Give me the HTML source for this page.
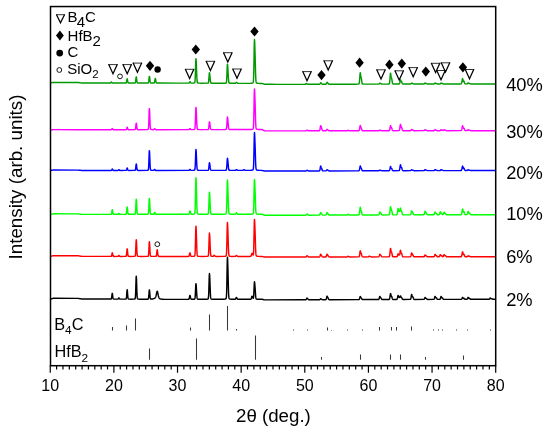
<!DOCTYPE html>
<html><head><meta charset="utf-8"><style>
html,body{margin:0;padding:0;background:#fff;}
body{width:550px;height:436px;overflow:hidden;}
svg{display:block;}
</style></head><body>
<svg width="550" height="436" viewBox="0 0 550 436">
<rect width="550" height="436" fill="#fff"/>
<path d="M50.20 299.20 L50.52 299.11 L50.84 299.02 L51.15 298.93 L51.47 298.84 L51.79 298.75 L52.11 298.66 L52.43 298.57 L52.75 298.48 L53.06 298.39 L53.38 298.30 L77.88 298.35 L78.20 298.40 L78.68 298.48 L79.00 298.53 L79.47 298.60 L79.95 298.68 L80.27 298.73 L80.75 298.80 L81.06 298.85 L81.54 298.93 L81.86 298.98 L87.59 299.03 L98.88 299.08 L110.97 299.03 L111.13 298.98 L111.29 298.84 L111.45 298.50 L111.61 297.83 L111.77 296.73 L111.93 295.31 L112.09 293.99 L112.24 293.35 L112.40 293.66 L112.56 294.72 L112.72 296.10 L112.88 297.32 L113.04 298.18 L113.20 298.67 L113.36 298.91 L113.52 299.01 L113.84 299.08 L115.11 299.13 L117.97 299.06 L118.13 298.96 L118.29 298.78 L118.45 298.50 L118.61 298.17 L118.77 297.92 L118.93 297.86 L119.09 298.00 L119.24 298.28 L119.40 298.58 L119.56 298.83 L119.72 298.99 L119.88 299.08 L120.20 299.14 L125.61 299.09 L125.77 299.06 L125.93 299.00 L126.09 298.87 L126.24 298.54 L126.40 297.79 L126.56 296.42 L126.72 294.36 L126.88 292.02 L127.04 290.20 L127.20 289.72 L127.36 290.68 L127.52 292.59 L127.68 294.77 L127.84 296.60 L127.99 297.84 L128.15 298.53 L128.31 298.86 L128.47 299.00 L128.63 299.07 L129.11 299.13 L131.02 299.18 L133.72 299.13 L134.36 299.06 L134.68 298.98 L134.84 298.92 L134.99 298.81 L135.15 298.53 L135.31 297.85 L135.47 296.28 L135.63 293.26 L135.79 288.57 L135.95 282.90 L136.11 278.06 L136.27 276.14 L136.43 277.71 L136.59 281.82 L136.74 286.99 L136.90 291.71 L137.06 295.13 L137.22 297.18 L137.38 298.22 L137.54 298.68 L137.70 298.88 L137.86 298.97 L138.02 299.02 L138.34 299.09 L138.81 299.14 L139.77 299.20 L143.43 299.25 L147.56 299.19 L148.04 299.11 L148.20 299.03 L148.36 298.83 L148.52 298.34 L148.68 297.35 L148.84 295.68 L148.99 293.45 L149.15 291.23 L149.31 289.90 L149.47 289.97 L149.63 291.19 L149.79 293.09 L149.95 295.12 L150.11 296.80 L150.27 297.94 L150.43 298.59 L150.59 298.90 L150.74 299.03 L150.90 299.08 L152.34 299.01 L152.65 298.95 L152.97 298.87 L153.29 298.77 L153.45 298.72 L153.61 298.67 L153.77 298.61 L153.93 298.54 L154.09 298.47 L154.24 298.40 L154.40 298.33 L154.56 298.25 L154.72 298.16 L154.88 298.05 L155.04 297.93 L155.20 297.78 L155.36 297.58 L155.52 297.31 L155.68 296.97 L155.84 296.53 L155.99 295.98 L156.15 295.33 L156.31 294.59 L156.47 293.80 L156.63 293.01 L156.79 292.29 L156.95 291.72 L157.11 291.38 L157.27 291.31 L157.43 291.52 L157.59 291.99 L157.74 292.66 L157.90 293.45 L158.06 294.30 L158.22 295.12 L158.38 295.88 L158.54 296.54 L158.70 297.09 L158.86 297.53 L159.02 297.87 L159.18 298.13 L159.34 298.33 L159.49 298.48 L159.65 298.60 L159.81 298.69 L159.97 298.77 L160.13 298.83 L160.29 298.89 L160.45 298.94 L160.77 299.03 L161.09 299.10 L161.40 299.15 L161.88 299.21 L162.52 299.27 L163.79 299.32 L167.93 299.37 L188.45 299.31 L188.61 299.29 L188.77 299.23 L188.93 299.10 L189.08 298.82 L189.24 298.31 L189.40 297.53 L189.56 296.60 L189.72 295.78 L189.88 295.38 L190.04 295.49 L190.20 295.94 L190.36 296.59 L190.52 297.33 L190.68 298.02 L190.83 298.56 L190.99 298.92 L191.15 299.13 L191.31 299.23 L191.63 299.29 L194.02 299.23 L194.33 299.17 L194.49 299.12 L194.65 299.03 L194.81 298.81 L194.97 298.28 L195.13 297.16 L195.29 295.10 L195.45 292.02 L195.61 288.37 L195.77 285.17 L195.93 283.63 L196.08 284.04 L196.24 285.80 L196.40 288.28 L196.56 291.11 L196.72 293.82 L196.88 296.02 L197.04 297.52 L197.20 298.40 L197.36 298.85 L197.52 299.05 L197.68 299.14 L197.99 299.21 L198.47 299.26 L199.74 299.32 L206.43 299.26 L207.06 299.20 L207.54 299.12 L207.70 299.08 L207.86 299.02 L208.02 298.92 L208.18 298.72 L208.33 298.25 L208.49 297.18 L208.65 294.98 L208.81 291.19 L208.97 285.86 L209.13 279.96 L209.29 275.29 L209.45 273.55 L209.61 274.76 L209.77 277.71 L209.93 281.56 L210.08 285.90 L210.24 290.15 L210.40 293.67 L210.56 296.17 L210.72 297.67 L210.88 298.45 L211.04 298.81 L211.20 298.97 L211.36 299.05 L211.52 299.10 L211.83 299.16 L212.31 299.22 L213.27 299.27 L223.77 299.22 L224.40 299.17 L224.88 299.11 L225.20 299.04 L225.36 299.00 L225.52 298.94 L225.68 298.87 L225.83 298.78 L225.99 298.62 L226.15 298.31 L226.31 297.59 L226.47 295.96 L226.63 292.60 L226.79 286.77 L226.95 278.40 L227.11 268.85 L227.27 260.85 L227.43 257.23 L227.58 258.48 L227.74 262.67 L227.90 268.08 L228.06 274.28 L228.22 280.91 L228.38 287.08 L228.54 291.97 L228.70 295.28 L228.86 297.18 L229.02 298.13 L229.18 298.56 L229.33 298.76 L229.49 298.87 L229.65 298.95 L229.81 299.00 L230.13 299.08 L230.45 299.13 L230.93 299.18 L231.88 299.24 L235.22 299.22 L235.38 299.15 L235.54 299.00 L235.70 298.75 L235.86 298.39 L236.02 297.99 L236.18 297.65 L236.33 297.51 L236.49 297.56 L236.65 297.74 L236.81 297.96 L236.97 298.21 L237.13 298.48 L237.29 298.74 L237.45 298.96 L237.61 299.11 L237.77 299.20 L238.08 299.27 L250.49 299.22 L250.81 299.15 L250.97 299.05 L251.13 298.84 L251.29 298.48 L251.45 297.93 L251.61 297.26 L251.77 296.64 L251.93 296.26 L252.08 296.23 L252.24 296.45 L252.40 296.76 L252.56 297.08 L252.72 297.44 L252.88 297.82 L253.04 298.15 L253.20 298.32 L253.36 298.20 L253.52 297.55 L253.68 296.10 L253.83 293.58 L253.99 290.06 L254.15 286.17 L254.31 283.01 L254.47 281.70 L254.63 282.34 L254.79 284.03 L254.95 285.99 L255.11 288.09 L255.27 290.44 L255.43 292.92 L255.58 295.15 L255.74 296.85 L255.90 297.96 L256.06 298.57 L256.22 298.87 L256.38 299.01 L256.54 299.08 L256.86 299.14 L257.33 299.20 L258.45 299.25 L262.27 299.32 L262.58 299.40 L262.90 299.48 L263.22 299.55 L263.54 299.63 L263.86 299.70 L264.18 299.78 L264.49 299.85 L300.92 299.80 L305.70 299.75 L305.86 299.71 L306.02 299.64 L306.17 299.51 L306.33 299.28 L306.49 298.97 L306.65 298.60 L306.81 298.28 L306.97 298.10 L307.13 298.13 L307.29 298.28 L307.45 298.46 L307.61 298.61 L307.77 298.73 L307.92 298.88 L308.08 299.07 L308.24 299.28 L308.40 299.46 L308.56 299.59 L308.72 299.68 L309.04 299.75 L319.70 299.66 L319.86 299.58 L320.02 299.44 L320.17 299.25 L320.33 299.04 L320.49 298.85 L320.65 298.76 L320.81 298.77 L320.97 298.87 L321.13 298.98 L321.29 299.06 L321.45 299.12 L321.61 299.19 L321.77 299.29 L321.92 299.41 L322.08 299.52 L322.24 299.61 L322.40 299.67 L322.88 299.72 L325.58 299.67 L325.74 299.63 L325.90 299.55 L326.06 299.39 L326.22 299.09 L326.38 298.60 L326.54 297.93 L326.70 297.16 L326.86 296.50 L327.02 296.16 L327.17 296.23 L327.33 296.58 L327.49 296.97 L327.65 297.27 L327.81 297.49 L327.97 297.72 L328.13 298.06 L328.29 298.48 L328.45 298.88 L328.61 299.21 L328.77 299.43 L328.92 299.56 L329.08 299.63 L329.56 299.69 L357.56 299.64 L358.83 299.58 L358.99 299.53 L359.15 299.44 L359.31 299.26 L359.47 298.94 L359.63 298.46 L359.79 297.83 L359.95 297.17 L360.11 296.65 L360.27 296.45 L360.42 296.61 L360.58 296.98 L360.74 297.34 L360.90 297.59 L361.06 297.72 L361.22 297.83 L361.38 298.03 L361.54 298.34 L361.70 298.69 L361.86 299.02 L362.01 299.27 L362.17 299.43 L362.33 299.52 L362.65 299.59 L378.40 299.53 L378.56 299.48 L378.72 299.40 L378.88 299.23 L379.04 298.93 L379.20 298.47 L379.36 297.86 L379.51 297.20 L379.67 296.66 L379.83 296.40 L379.99 296.51 L380.15 296.87 L380.31 297.28 L380.47 297.57 L380.63 297.70 L380.79 297.76 L380.95 297.86 L381.11 298.09 L381.26 298.41 L381.42 298.75 L381.58 299.05 L381.74 299.27 L381.90 299.40 L382.06 299.48 L382.38 299.54 L388.74 299.49 L389.06 299.43 L389.22 299.36 L389.38 299.22 L389.54 298.93 L389.70 298.41 L389.86 297.60 L390.01 296.51 L390.17 295.28 L390.33 294.20 L390.49 293.61 L390.65 293.70 L390.81 294.33 L390.97 295.12 L391.13 295.74 L391.29 296.06 L391.45 296.15 L391.61 296.25 L391.76 296.54 L391.92 297.06 L392.08 297.69 L392.24 298.30 L392.40 298.78 L392.56 299.10 L392.72 299.29 L392.88 299.39 L393.04 299.44 L393.67 299.50 L396.70 299.42 L396.86 299.36 L397.01 299.22 L397.17 298.97 L397.33 298.55 L397.49 297.92 L397.65 297.14 L397.81 296.34 L397.97 295.73 L398.13 295.51 L398.29 295.74 L398.45 296.24 L398.61 296.74 L398.76 297.08 L398.92 297.20 L399.24 297.20 L399.40 297.29 L399.56 297.40 L399.72 297.40 L399.88 297.20 L400.04 296.78 L400.20 296.27 L400.36 295.90 L400.51 295.86 L400.67 296.16 L400.83 296.65 L400.99 297.11 L401.15 297.39 L401.31 297.49 L401.47 297.51 L401.63 297.58 L401.79 297.81 L401.95 298.15 L402.11 298.53 L402.26 298.87 L402.42 299.13 L402.58 299.29 L402.74 299.39 L403.06 299.46 L410.22 299.39 L410.38 299.31 L410.54 299.16 L410.70 298.87 L410.86 298.38 L411.01 297.64 L411.17 296.70 L411.33 295.69 L411.49 294.88 L411.65 294.52 L411.81 294.72 L411.97 295.32 L412.13 296.01 L412.29 296.52 L412.45 296.76 L412.76 296.78 L412.92 296.93 L413.08 297.29 L413.24 297.79 L413.40 298.30 L413.56 298.73 L413.72 299.05 L413.88 299.24 L414.04 299.35 L414.20 299.40 L414.67 299.46 L423.90 299.36 L424.06 299.27 L424.22 299.10 L424.38 298.84 L424.54 298.49 L424.70 298.09 L424.86 297.73 L425.01 297.51 L425.17 297.51 L425.33 297.70 L425.49 297.98 L425.65 298.23 L425.81 298.38 L426.29 298.40 L426.45 298.48 L426.61 298.64 L426.76 298.84 L426.92 299.04 L427.08 299.20 L427.24 299.31 L427.40 299.38 L427.72 299.43 L433.61 299.38 L433.76 299.33 L433.92 299.25 L434.08 299.08 L434.24 298.81 L434.40 298.38 L434.56 297.84 L434.72 297.24 L434.88 296.73 L435.04 296.47 L435.20 296.53 L435.36 296.87 L435.51 297.30 L435.67 297.67 L435.83 297.87 L436.31 297.84 L436.47 297.95 L436.63 298.18 L436.79 298.48 L436.95 298.77 L437.11 299.01 L437.26 299.18 L437.42 299.29 L437.58 299.35 L438.22 299.40 L439.81 299.31 L439.97 299.22 L440.13 299.06 L440.29 298.78 L440.45 298.35 L440.61 297.81 L440.76 297.22 L440.92 296.71 L441.08 296.45 L441.24 296.52 L441.40 296.86 L441.56 297.30 L441.72 297.67 L441.88 297.89 L442.04 297.93 L442.20 297.87 L442.36 297.83 L442.51 297.91 L442.67 298.13 L442.83 298.42 L442.99 298.72 L443.15 298.97 L443.31 299.15 L443.47 299.27 L443.63 299.33 L443.95 299.38 L461.13 299.33 L461.29 299.29 L461.45 299.22 L461.60 299.09 L461.76 298.87 L461.92 298.57 L462.08 298.20 L462.24 297.81 L462.40 297.51 L462.56 297.38 L462.72 297.47 L462.88 297.73 L463.04 298.03 L463.20 298.28 L463.35 298.42 L463.51 298.44 L463.67 298.38 L463.83 298.33 L463.99 298.34 L464.15 298.45 L464.31 298.62 L464.47 298.82 L464.63 299.00 L464.79 299.14 L464.95 299.23 L465.10 299.29 L465.74 299.34 L466.85 299.27 L467.01 299.21 L467.17 299.09 L467.33 298.90 L467.49 298.61 L467.65 298.25 L467.81 297.86 L467.97 297.54 L468.13 297.37 L468.29 297.42 L468.45 297.66 L468.60 297.96 L468.76 298.24 L468.92 298.40 L469.24 298.40 L469.40 298.34 L469.56 298.32 L469.72 298.39 L469.88 298.55 L470.04 298.74 L470.20 298.93 L470.35 299.09 L470.51 299.20 L470.67 299.26 L470.99 299.32 L488.97 299.25 L489.13 299.20 L489.29 299.11 L489.45 298.96 L489.60 298.77 L489.76 298.53 L489.92 298.28 L490.08 298.09 L490.24 298.01 L490.40 298.08 L490.56 298.24 L490.72 298.45 L490.88 298.63 L491.04 298.74 L491.35 298.73 L491.51 298.67 L491.83 298.66 L491.99 298.74 L492.15 298.85 L492.31 298.98 L492.47 299.09 L492.63 299.17 L492.79 299.23 L493.10 299.28 L495.65 299.30" fill="none" stroke="#000000" stroke-width="1.45" stroke-linejoin="round"/>
<path d="M50.20 256.40 L50.52 256.33 L50.84 256.26 L51.15 256.19 L51.47 256.12 L51.79 256.05 L52.11 255.98 L52.43 255.91 L52.75 255.84 L53.06 255.77 L53.38 255.70 L77.88 255.75 L78.36 255.82 L78.84 255.90 L79.15 255.95 L79.63 256.02 L79.95 256.07 L80.27 256.12 L80.75 256.20 L81.06 256.25 L81.54 256.32 L81.86 256.38 L111.13 256.34 L111.29 256.25 L111.45 256.04 L111.61 255.62 L111.77 254.94 L111.93 254.06 L112.09 253.24 L112.24 252.84 L112.40 253.03 L112.56 253.69 L112.72 254.55 L112.88 255.31 L113.04 255.84 L113.20 256.14 L113.36 256.29 L113.52 256.35 L114.15 256.41 L117.97 256.36 L118.13 256.29 L118.29 256.14 L118.45 255.93 L118.61 255.68 L118.77 255.49 L118.93 255.44 L119.09 255.55 L119.24 255.76 L119.40 255.99 L119.56 256.18 L119.72 256.30 L119.88 256.37 L120.36 256.42 L125.61 256.36 L125.93 256.29 L126.09 256.18 L126.24 255.92 L126.40 255.32 L126.56 254.22 L126.72 252.58 L126.88 250.70 L127.04 249.25 L127.20 248.87 L127.36 249.63 L127.52 251.16 L127.68 252.90 L127.84 254.37 L127.99 255.36 L128.15 255.91 L128.31 256.18 L128.47 256.29 L128.79 256.36 L129.90 256.41 L134.04 256.36 L134.52 256.30 L134.84 256.23 L134.99 256.14 L135.15 255.95 L135.31 255.45 L135.47 254.32 L135.63 252.14 L135.79 248.74 L135.95 244.64 L136.11 241.14 L136.27 239.76 L136.43 240.89 L136.59 243.86 L136.74 247.60 L136.90 251.01 L137.06 253.48 L137.22 254.97 L137.38 255.72 L137.54 256.05 L137.70 256.19 L137.86 256.26 L138.18 256.32 L138.81 256.38 L140.72 256.43 L147.24 256.38 L147.72 256.32 L147.88 256.28 L148.04 256.22 L148.20 256.10 L148.36 255.78 L148.52 255.02 L148.68 253.46 L148.84 250.84 L148.99 247.35 L149.15 243.88 L149.31 241.79 L149.47 241.89 L149.63 243.82 L149.79 246.81 L149.95 250.00 L150.11 252.64 L150.27 254.43 L150.43 255.45 L150.59 255.95 L150.74 256.17 L150.90 256.26 L151.22 256.34 L151.86 256.40 L155.84 256.37 L155.99 256.32 L156.15 256.19 L156.31 255.89 L156.47 255.26 L156.63 254.17 L156.79 252.66 L156.95 251.08 L157.11 249.99 L157.27 249.83 L157.43 250.52 L157.59 251.74 L157.74 253.15 L157.90 254.41 L158.06 255.33 L158.22 255.89 L158.38 256.18 L158.54 256.32 L158.70 256.37 L159.18 256.43 L161.88 256.48 L188.45 256.43 L188.77 256.36 L188.93 256.24 L189.08 255.99 L189.24 255.52 L189.40 254.82 L189.56 253.99 L189.72 253.25 L189.88 252.89 L190.04 252.98 L190.20 253.39 L190.36 253.97 L190.52 254.64 L190.68 255.26 L190.83 255.75 L190.99 256.07 L191.15 256.25 L191.31 256.34 L191.63 256.39 L193.38 256.33 L193.86 256.26 L194.18 256.18 L194.33 256.12 L194.49 256.03 L194.65 255.84 L194.81 255.42 L194.97 254.42 L195.13 252.25 L195.29 248.29 L195.45 242.37 L195.61 235.33 L195.77 229.19 L195.93 226.21 L196.08 227.02 L196.24 230.39 L196.40 235.16 L196.56 240.60 L196.72 245.83 L196.88 250.05 L197.04 252.95 L197.20 254.65 L197.36 255.50 L197.52 255.89 L197.68 256.06 L197.83 256.15 L197.99 256.21 L198.31 256.28 L198.79 256.35 L199.58 256.40 L202.29 256.45 L206.43 256.40 L207.06 256.35 L207.54 256.28 L207.70 256.24 L207.86 256.18 L208.02 256.09 L208.18 255.91 L208.33 255.49 L208.49 254.51 L208.65 252.51 L208.81 249.05 L208.97 244.20 L209.13 238.82 L209.29 234.58 L209.45 232.99 L209.61 234.09 L209.77 236.78 L209.93 240.29 L210.08 244.24 L210.24 248.11 L210.40 251.32 L210.56 253.59 L210.72 254.96 L210.88 255.67 L211.04 255.99 L211.20 256.14 L211.36 256.21 L211.68 256.29 L212.15 256.35 L213.11 256.35 L213.27 256.29 L213.43 256.16 L213.58 255.96 L213.74 255.70 L213.90 255.44 L214.06 255.28 L214.22 255.26 L214.38 255.36 L214.54 255.51 L214.70 255.70 L214.86 255.90 L215.02 256.09 L215.18 256.24 L215.33 256.34 L215.49 256.40 L215.97 256.45 L223.77 256.40 L224.56 256.35 L225.04 256.29 L225.36 256.22 L225.52 256.18 L225.68 256.12 L225.83 256.05 L225.99 255.92 L226.15 255.67 L226.31 255.09 L226.47 253.77 L226.63 251.07 L226.79 246.37 L226.95 239.63 L227.11 231.94 L227.27 225.49 L227.43 222.57 L227.58 223.58 L227.74 226.95 L227.90 231.32 L228.06 236.32 L228.22 241.66 L228.38 246.62 L228.54 250.57 L228.70 253.23 L228.86 254.76 L229.02 255.53 L229.18 255.88 L229.33 256.04 L229.49 256.13 L229.65 256.19 L229.97 256.27 L230.29 256.32 L230.77 256.37 L231.72 256.42 L235.38 256.39 L235.54 256.31 L235.70 256.17 L235.86 255.97 L236.02 255.75 L236.18 255.56 L236.33 255.48 L236.49 255.51 L236.65 255.61 L236.81 255.73 L236.97 255.87 L237.13 256.02 L237.29 256.17 L237.45 256.29 L237.61 256.37 L237.77 256.42 L238.72 256.47 L249.54 256.42 L250.49 256.36 L250.65 256.33 L250.81 256.28 L250.97 256.18 L251.13 255.97 L251.29 255.59 L251.45 255.04 L251.61 254.36 L251.77 253.72 L251.93 253.33 L252.08 253.29 L252.24 253.49 L252.40 253.78 L252.56 254.08 L252.72 254.40 L252.88 254.73 L253.04 254.98 L253.20 254.98 L253.36 254.47 L253.52 252.97 L253.68 249.83 L253.83 244.49 L253.99 237.06 L254.15 228.84 L254.31 222.18 L254.47 219.41 L254.63 220.75 L254.79 224.32 L254.95 228.45 L255.11 232.86 L255.27 237.83 L255.43 243.05 L255.58 247.75 L255.74 251.34 L255.90 253.66 L256.06 254.95 L256.22 255.59 L256.38 255.88 L256.54 256.02 L256.70 256.11 L256.86 256.16 L257.18 256.24 L257.49 256.30 L257.97 256.35 L258.77 256.40 L260.68 256.45 L262.27 256.51 L262.58 256.59 L262.90 256.66 L263.22 256.74 L263.54 256.82 L263.86 256.89 L264.18 256.97 L264.49 257.05 L305.86 256.98 L306.02 256.93 L306.17 256.83 L306.33 256.66 L306.49 256.41 L306.65 256.13 L306.81 255.89 L306.97 255.75 L307.13 255.77 L307.29 255.89 L307.45 256.03 L307.61 256.14 L307.77 256.24 L307.92 256.35 L308.08 256.50 L308.24 256.65 L308.40 256.79 L308.56 256.90 L308.72 256.96 L309.04 257.01 L319.38 256.94 L319.54 256.89 L319.70 256.77 L319.86 256.54 L320.02 256.16 L320.17 255.63 L320.33 255.03 L320.49 254.51 L320.65 254.24 L320.81 254.29 L320.97 254.56 L321.13 254.86 L321.29 255.09 L321.45 255.27 L321.61 255.48 L321.77 255.76 L321.92 256.09 L322.08 256.40 L322.24 256.64 L322.40 256.80 L322.56 256.90 L322.88 256.97 L325.74 256.93 L325.90 256.87 L326.06 256.75 L326.22 256.51 L326.38 256.13 L326.54 255.61 L326.70 255.01 L326.86 254.49 L327.02 254.23 L327.17 254.29 L327.33 254.56 L327.49 254.87 L327.65 255.10 L327.81 255.27 L327.97 255.45 L328.13 255.72 L328.29 256.04 L328.45 256.35 L328.61 256.61 L328.77 256.78 L328.92 256.88 L329.08 256.94 L329.72 256.99 L347.06 256.92 L347.22 256.86 L347.38 256.76 L347.54 256.63 L347.70 256.48 L347.86 256.35 L348.02 256.29 L348.17 256.31 L348.33 256.38 L348.49 256.46 L348.65 256.52 L348.97 256.59 L349.13 256.64 L349.29 256.71 L349.45 256.78 L349.61 256.86 L349.77 256.91 L350.08 256.96 L358.36 256.90 L358.83 256.83 L358.99 256.75 L359.15 256.57 L359.31 256.23 L359.47 255.62 L359.63 254.70 L359.79 253.50 L359.95 252.24 L360.11 251.25 L360.27 250.87 L360.42 251.18 L360.58 251.88 L360.74 252.58 L360.90 253.05 L361.06 253.29 L361.22 253.51 L361.38 253.89 L361.54 254.48 L361.70 255.15 L361.86 255.77 L362.01 256.25 L362.17 256.56 L362.33 256.73 L362.49 256.82 L362.81 256.89 L364.24 256.94 L368.22 256.88 L368.38 256.81 L368.54 256.71 L368.70 256.56 L368.86 256.40 L369.01 256.25 L369.17 256.17 L369.33 256.17 L369.49 256.25 L369.65 256.35 L369.81 256.43 L370.13 256.49 L370.29 256.52 L370.45 256.58 L370.61 256.66 L370.76 256.75 L370.92 256.83 L371.08 256.88 L371.40 256.93 L378.40 256.88 L378.56 256.84 L378.72 256.77 L378.88 256.62 L379.04 256.36 L379.20 255.96 L379.36 255.43 L379.51 254.85 L379.67 254.37 L379.83 254.15 L379.99 254.25 L380.15 254.56 L380.31 254.91 L380.47 255.17 L380.63 255.29 L380.79 255.34 L380.95 255.43 L381.11 255.63 L381.26 255.91 L381.42 256.20 L381.58 256.47 L381.74 256.66 L381.90 256.78 L382.06 256.84 L382.38 256.89 L388.42 256.84 L388.90 256.78 L389.06 256.73 L389.22 256.63 L389.38 256.43 L389.54 256.01 L389.70 255.27 L389.86 254.11 L390.01 252.55 L390.17 250.79 L390.33 249.24 L390.49 248.39 L390.65 248.52 L390.81 249.42 L390.97 250.55 L391.13 251.45 L391.29 251.90 L391.45 252.04 L391.61 252.17 L391.76 252.59 L391.92 253.34 L392.08 254.25 L392.24 255.12 L392.40 255.80 L392.56 256.27 L392.72 256.54 L392.88 256.69 L393.04 256.76 L393.36 256.82 L396.86 256.76 L397.01 256.65 L397.17 256.46 L397.33 256.14 L397.49 255.67 L397.65 255.09 L397.81 254.48 L397.97 254.02 L398.13 253.86 L398.29 254.02 L398.45 254.39 L398.61 254.76 L398.76 255.01 L398.92 255.08 L399.08 255.04 L399.24 254.97 L399.40 254.89 L399.56 254.70 L399.72 254.25 L399.88 253.44 L400.04 252.35 L400.20 251.22 L400.36 250.41 L400.51 250.27 L400.67 250.80 L400.83 251.68 L400.99 252.50 L401.15 253.01 L401.31 253.19 L401.47 253.22 L401.63 253.36 L401.79 253.77 L401.95 254.40 L402.11 255.09 L402.26 255.72 L402.42 256.18 L402.58 256.49 L402.74 256.66 L402.90 256.75 L403.22 256.82 L404.33 256.87 L410.22 256.80 L410.38 256.74 L410.54 256.62 L410.70 256.39 L410.86 255.99 L411.01 255.41 L411.17 254.65 L411.33 253.85 L411.49 253.20 L411.65 252.91 L411.81 253.07 L411.97 253.55 L412.13 254.10 L412.29 254.51 L412.45 254.70 L412.76 254.72 L412.92 254.84 L413.08 255.13 L413.24 255.52 L413.40 255.94 L413.56 256.28 L413.72 256.53 L413.88 256.69 L414.04 256.77 L414.36 256.84 L423.90 256.77 L424.06 256.68 L424.22 256.51 L424.38 256.25 L424.54 255.90 L424.70 255.50 L424.86 255.14 L425.01 254.92 L425.17 254.91 L425.33 255.11 L425.49 255.39 L425.65 255.64 L425.81 255.79 L426.29 255.81 L426.45 255.89 L426.61 256.05 L426.76 256.25 L426.92 256.45 L427.08 256.61 L427.24 256.72 L427.40 256.79 L427.72 256.84 L433.76 256.77 L433.92 256.70 L434.08 256.57 L434.24 256.33 L434.40 255.98 L434.56 255.53 L434.72 255.03 L434.88 254.61 L435.04 254.38 L435.20 254.44 L435.36 254.72 L435.51 255.08 L435.67 255.39 L435.83 255.56 L436.31 255.53 L436.47 255.62 L436.63 255.81 L436.79 256.06 L436.95 256.30 L437.11 256.50 L437.26 256.65 L437.42 256.73 L437.74 256.80 L439.01 256.75 L439.17 256.68 L439.33 256.55 L439.49 256.32 L439.65 255.99 L439.81 255.58 L439.97 255.15 L440.13 254.80 L440.29 254.66 L440.45 254.75 L440.61 255.03 L440.76 255.35 L440.92 255.60 L441.08 255.73 L441.56 255.68 L441.72 255.76 L441.88 255.93 L442.04 256.14 L442.20 256.36 L442.36 256.52 L442.51 256.64 L442.67 256.69 L442.83 256.70 L442.99 256.65 L443.15 256.52 L443.31 256.30 L443.47 255.97 L443.63 255.56 L443.79 255.13 L443.95 254.79 L444.11 254.65 L444.26 254.75 L444.42 255.03 L444.58 255.35 L444.74 255.61 L444.90 255.74 L445.38 255.69 L445.54 255.76 L445.70 255.92 L445.86 256.14 L446.01 256.36 L446.17 256.54 L446.33 256.66 L446.49 256.74 L446.81 256.81 L460.81 256.76 L461.13 256.69 L461.29 256.60 L461.45 256.42 L461.60 256.09 L461.76 255.56 L461.92 254.81 L462.08 253.88 L462.24 252.91 L462.40 252.16 L462.56 251.84 L462.72 252.07 L462.88 252.71 L463.04 253.47 L463.20 254.10 L463.35 254.44 L463.51 254.49 L463.67 254.36 L463.83 254.22 L463.99 254.25 L464.15 254.52 L464.31 254.96 L464.47 255.46 L464.63 255.91 L464.79 256.26 L464.95 256.49 L465.10 256.63 L465.26 256.71 L465.58 256.76 L467.01 256.74 L467.17 256.68 L467.33 256.58 L467.49 256.44 L467.65 256.26 L467.81 256.07 L467.97 255.91 L468.13 255.83 L468.29 255.85 L468.45 255.97 L468.60 256.12 L468.76 256.26 L468.92 256.34 L469.72 256.34 L469.88 256.42 L470.04 256.52 L470.20 256.61 L470.35 256.69 L470.51 256.74 L470.83 256.80 L495.65 256.80" fill="none" stroke="#ff0000" stroke-width="1.45" stroke-linejoin="round"/>
<path d="M50.20 214.40 L50.52 214.34 L50.84 214.28 L51.15 214.22 L51.47 214.16 L51.79 214.10 L52.11 214.04 L52.43 213.98 L52.75 213.92 L53.06 213.86 L53.38 213.80 L78.04 213.86 L78.52 213.93 L79.00 213.99 L79.47 214.06 L79.95 214.12 L80.43 214.19 L80.90 214.25 L81.38 214.31 L81.86 214.38 L110.81 214.32 L111.13 214.26 L111.29 214.14 L111.45 213.87 L111.61 213.33 L111.77 212.43 L111.93 211.28 L112.09 210.22 L112.24 209.69 L112.40 209.94 L112.56 210.81 L112.72 211.92 L112.88 212.91 L113.04 213.60 L113.20 214.00 L113.36 214.19 L113.52 214.28 L113.84 214.33 L117.97 214.30 L118.13 214.23 L118.29 214.08 L118.45 213.86 L118.61 213.62 L118.77 213.42 L118.93 213.38 L119.09 213.48 L119.24 213.69 L119.40 213.92 L119.56 214.11 L119.72 214.24 L119.88 214.31 L120.36 214.36 L125.45 214.30 L125.93 214.22 L126.09 214.12 L126.24 213.86 L126.40 213.28 L126.56 212.21 L126.72 210.61 L126.88 208.78 L127.04 207.36 L127.20 206.99 L127.36 207.74 L127.52 209.22 L127.68 210.92 L127.84 212.35 L127.99 213.31 L128.15 213.85 L128.31 214.10 L128.47 214.21 L128.79 214.28 L130.06 214.34 L134.04 214.28 L134.52 214.23 L134.84 214.16 L134.99 214.08 L135.15 213.90 L135.31 213.45 L135.47 212.42 L135.63 210.43 L135.79 207.34 L135.95 203.61 L136.11 200.43 L136.27 199.17 L136.43 200.20 L136.59 202.90 L136.74 206.30 L136.90 209.40 L137.06 211.66 L137.22 213.01 L137.38 213.69 L137.54 214.00 L137.70 214.12 L137.86 214.18 L138.18 214.24 L138.81 214.29 L142.15 214.34 L146.77 214.29 L147.56 214.22 L147.88 214.16 L148.04 214.09 L148.20 213.96 L148.36 213.61 L148.52 212.79 L148.68 211.11 L148.84 208.28 L148.99 204.50 L149.15 200.75 L149.31 198.50 L149.47 198.61 L149.63 200.69 L149.79 203.92 L149.95 207.36 L150.11 210.21 L150.27 212.15 L150.43 213.26 L150.59 213.80 L150.74 214.03 L150.90 214.13 L151.22 214.21 L151.70 214.26 L153.61 214.25 L153.77 214.16 L153.93 213.98 L154.09 213.65 L154.24 213.20 L154.40 212.73 L154.56 212.40 L154.72 212.36 L154.88 212.57 L155.04 212.94 L155.20 213.36 L155.36 213.74 L155.52 214.01 L155.68 214.18 L155.84 214.26 L156.15 214.32 L188.61 214.25 L188.77 214.20 L188.93 214.09 L189.08 213.85 L189.24 213.41 L189.40 212.75 L189.56 211.96 L189.72 211.26 L189.88 210.92 L190.04 211.01 L190.20 211.40 L190.36 211.95 L190.52 212.57 L190.68 213.16 L190.83 213.62 L190.99 213.92 L191.15 214.09 L191.31 214.18 L191.79 214.23 L193.06 214.18 L193.54 214.12 L193.86 214.06 L194.02 214.01 L194.18 213.96 L194.33 213.88 L194.49 213.77 L194.65 213.55 L194.81 213.04 L194.97 211.82 L195.13 209.21 L195.29 204.43 L195.45 197.28 L195.61 188.79 L195.77 181.37 L195.93 177.78 L196.08 178.75 L196.24 182.82 L196.40 188.58 L196.56 195.15 L196.72 201.46 L196.88 206.56 L197.04 210.06 L197.20 212.11 L197.36 213.14 L197.52 213.60 L197.68 213.81 L197.83 213.92 L197.99 213.99 L198.15 214.04 L198.47 214.11 L198.95 214.17 L199.74 214.23 L201.97 214.28 L206.58 214.23 L207.22 214.17 L207.54 214.12 L207.70 214.08 L207.86 214.03 L208.02 213.95 L208.18 213.78 L208.33 213.37 L208.49 212.45 L208.65 210.57 L208.81 207.33 L208.97 202.76 L209.13 197.71 L209.29 193.71 L209.45 192.22 L209.61 193.25 L209.77 195.79 L209.93 199.08 L210.08 202.80 L210.24 206.44 L210.40 209.46 L210.56 211.59 L210.72 212.88 L210.88 213.55 L211.04 213.85 L211.20 213.99 L211.36 214.06 L211.68 214.14 L212.15 214.20 L213.11 214.25 L224.24 214.20 L224.88 214.13 L225.20 214.08 L225.52 214.00 L225.68 213.94 L225.83 213.86 L225.99 213.74 L226.15 213.48 L226.31 212.90 L226.47 211.57 L226.63 208.84 L226.79 204.10 L226.95 197.30 L227.11 189.54 L227.27 183.04 L227.43 180.09 L227.58 181.11 L227.74 184.51 L227.90 188.91 L228.06 193.96 L228.22 199.34 L228.38 204.36 L228.54 208.34 L228.70 211.02 L228.86 212.57 L229.02 213.34 L229.18 213.69 L229.33 213.85 L229.49 213.94 L229.65 214.00 L229.97 214.08 L230.29 214.13 L230.77 214.18 L231.72 214.24 L235.22 214.23 L235.38 214.16 L235.54 214.04 L235.70 213.83 L235.86 213.53 L236.02 213.20 L236.18 212.92 L236.33 212.80 L236.49 212.84 L236.65 212.99 L236.81 213.17 L236.97 213.38 L237.13 213.61 L237.29 213.82 L237.45 214.00 L237.61 214.13 L237.77 214.21 L238.08 214.27 L250.65 214.21 L251.45 214.16 L251.93 214.10 L252.24 214.04 L252.56 213.96 L252.72 213.90 L252.88 213.81 L253.04 213.66 L253.20 213.36 L253.36 212.67 L253.52 211.14 L253.68 208.13 L253.83 203.09 L253.99 196.11 L254.15 188.39 L254.31 182.14 L254.47 179.53 L254.63 180.79 L254.79 184.13 L254.95 188.01 L255.11 192.14 L255.27 196.80 L255.43 201.70 L255.58 206.10 L255.74 209.47 L255.90 211.65 L256.06 212.86 L256.22 213.45 L256.38 213.73 L256.54 213.86 L256.70 213.94 L256.86 213.99 L257.18 214.07 L257.49 214.12 L258.13 214.18 L259.24 214.23 L262.11 214.27 L262.27 214.34 L262.43 214.40 L262.58 214.46 L262.74 214.53 L262.90 214.59 L263.06 214.65 L263.22 214.72 L263.38 214.78 L263.54 214.84 L263.70 214.91 L263.86 214.97 L264.02 215.03 L264.18 215.10 L264.33 215.16 L264.49 215.22 L264.65 215.29 L289.63 215.23 L304.90 215.18 L306.02 215.09 L306.17 214.99 L306.33 214.83 L306.49 214.61 L306.65 214.35 L306.81 214.12 L306.97 214.00 L307.13 214.01 L307.29 214.12 L307.45 214.25 L307.61 214.35 L307.77 214.44 L307.92 214.55 L308.08 214.68 L308.24 214.83 L308.40 214.96 L308.56 215.05 L308.72 215.11 L309.20 215.16 L319.22 215.10 L319.38 215.08 L319.54 215.02 L319.70 214.91 L319.86 214.70 L320.02 214.35 L320.17 213.86 L320.33 213.30 L320.49 212.82 L320.65 212.57 L320.81 212.61 L320.97 212.86 L321.13 213.14 L321.29 213.36 L321.45 213.52 L321.61 213.71 L321.77 213.98 L321.92 214.28 L322.08 214.57 L322.24 214.79 L322.40 214.95 L322.56 215.03 L322.88 215.10 L325.74 215.06 L325.90 215.00 L326.06 214.89 L326.22 214.67 L326.38 214.32 L326.54 213.83 L326.70 213.27 L326.86 212.79 L327.02 212.55 L327.17 212.60 L327.33 212.85 L327.49 213.14 L327.65 213.35 L327.81 213.51 L327.97 213.68 L328.13 213.93 L328.29 214.22 L328.45 214.52 L328.61 214.75 L328.77 214.91 L328.92 215.01 L329.24 215.08 L347.06 215.00 L347.22 214.93 L347.38 214.82 L347.54 214.67 L347.70 214.50 L347.86 214.35 L348.02 214.28 L348.17 214.30 L348.33 214.39 L348.49 214.48 L348.65 214.55 L348.97 214.62 L349.13 214.67 L349.29 214.76 L349.45 214.84 L349.61 214.93 L349.77 214.99 L350.08 215.04 L357.88 214.99 L358.52 214.94 L358.67 214.92 L358.83 214.87 L358.99 214.76 L359.15 214.54 L359.31 214.10 L359.47 213.32 L359.63 212.14 L359.79 210.61 L359.95 208.99 L360.11 207.73 L360.27 207.25 L360.42 207.64 L360.58 208.53 L360.74 209.43 L360.90 210.03 L361.06 210.34 L361.22 210.61 L361.38 211.11 L361.54 211.86 L361.70 212.72 L361.86 213.51 L362.01 214.12 L362.17 214.52 L362.33 214.74 L362.49 214.86 L362.65 214.91 L363.13 214.97 L366.15 215.02 L377.76 214.97 L378.56 214.89 L378.72 214.81 L378.88 214.65 L379.04 214.37 L379.20 213.94 L379.36 213.37 L379.51 212.75 L379.67 212.24 L379.83 212.00 L379.99 212.10 L380.15 212.44 L380.31 212.82 L380.47 213.09 L380.63 213.22 L380.79 213.27 L380.95 213.37 L381.11 213.58 L381.26 213.88 L381.42 214.20 L381.58 214.48 L381.74 214.68 L381.90 214.81 L382.06 214.88 L382.38 214.94 L388.42 214.88 L388.90 214.82 L389.06 214.77 L389.22 214.68 L389.38 214.47 L389.54 214.07 L389.70 213.35 L389.86 212.21 L390.01 210.68 L390.17 208.96 L390.33 207.45 L390.49 206.63 L390.65 206.75 L390.81 207.63 L390.97 208.73 L391.13 209.61 L391.29 210.05 L391.45 210.18 L391.61 210.31 L391.76 210.72 L391.92 211.45 L392.08 212.34 L392.24 213.19 L392.40 213.86 L392.56 214.31 L392.72 214.58 L392.88 214.72 L393.04 214.79 L393.36 214.85 L396.54 214.79 L396.70 214.74 L396.86 214.64 L397.01 214.43 L397.17 214.03 L397.33 213.36 L397.49 212.38 L397.65 211.15 L397.81 209.88 L397.97 208.92 L398.13 208.58 L398.29 208.94 L398.45 209.72 L398.61 210.52 L398.76 211.05 L398.92 211.24 L399.24 211.20 L399.40 211.30 L399.56 211.40 L399.72 211.29 L399.88 210.79 L400.04 209.93 L400.20 208.93 L400.36 208.21 L400.51 208.11 L400.67 208.67 L400.83 209.58 L400.99 210.42 L401.15 210.95 L401.31 211.13 L401.47 211.16 L401.63 211.31 L401.79 211.72 L401.95 212.36 L402.11 213.07 L402.26 213.70 L402.42 214.18 L402.58 214.49 L402.74 214.67 L402.90 214.76 L403.22 214.83 L404.33 214.88 L410.22 214.81 L410.38 214.75 L410.54 214.63 L410.70 214.40 L410.86 214.00 L411.01 213.41 L411.17 212.66 L411.33 211.85 L411.49 211.20 L411.65 210.91 L411.81 211.08 L411.97 211.56 L412.13 212.10 L412.29 212.52 L412.45 212.70 L412.76 212.72 L412.92 212.84 L413.08 213.13 L413.24 213.53 L413.40 213.94 L413.56 214.29 L413.72 214.54 L413.88 214.69 L414.04 214.78 L414.36 214.84 L423.58 214.79 L423.74 214.75 L423.90 214.66 L424.06 214.48 L424.22 214.16 L424.38 213.67 L424.54 213.01 L424.70 212.25 L424.86 211.56 L425.01 211.14 L425.17 211.13 L425.33 211.50 L425.49 212.04 L425.65 212.52 L425.81 212.80 L425.97 212.88 L426.29 212.83 L426.45 212.98 L426.61 213.29 L426.76 213.67 L426.92 214.04 L427.08 214.35 L427.24 214.56 L427.40 214.69 L427.56 214.76 L427.88 214.82 L433.76 214.74 L433.92 214.66 L434.08 214.50 L434.24 214.24 L434.40 213.85 L434.56 213.34 L434.72 212.79 L434.88 212.31 L435.04 212.06 L435.20 212.12 L435.36 212.44 L435.51 212.84 L435.67 213.19 L435.83 213.37 L436.31 213.34 L436.47 213.44 L436.63 213.65 L436.79 213.93 L436.95 214.21 L437.11 214.43 L437.26 214.59 L437.42 214.69 L437.58 214.74 L439.01 214.69 L439.17 214.59 L439.33 214.40 L439.49 214.10 L439.65 213.65 L439.81 213.08 L439.97 212.50 L440.13 212.03 L440.29 211.83 L440.45 211.96 L440.61 212.33 L440.76 212.77 L440.92 213.12 L441.08 213.29 L441.24 213.30 L441.40 213.24 L441.56 213.22 L441.72 213.33 L441.88 213.56 L442.04 213.86 L442.20 214.14 L442.36 214.38 L442.51 214.53 L442.67 214.61 L442.83 214.63 L442.99 214.57 L443.15 214.42 L443.31 214.16 L443.47 213.77 L443.63 213.29 L443.79 212.78 L443.95 212.38 L444.11 212.21 L444.26 212.33 L444.42 212.66 L444.58 213.04 L444.74 213.35 L444.90 213.50 L445.06 213.52 L445.22 213.46 L445.38 213.44 L445.54 213.52 L445.70 213.71 L445.86 213.97 L446.01 214.23 L446.17 214.44 L446.33 214.59 L446.49 214.68 L446.65 214.74 L447.29 214.79 L460.01 214.74 L460.81 214.69 L460.97 214.66 L461.13 214.61 L461.29 214.50 L461.45 214.29 L461.60 213.91 L461.76 213.30 L461.92 212.42 L462.08 211.34 L462.24 210.23 L462.40 209.35 L462.56 208.98 L462.72 209.25 L462.88 209.98 L463.04 210.87 L463.20 211.60 L463.35 212.00 L463.51 212.05 L463.67 211.89 L463.83 211.73 L463.99 211.77 L464.15 212.08 L464.31 212.59 L464.47 213.17 L464.63 213.69 L464.79 214.09 L464.95 214.36 L465.10 214.52 L465.26 214.61 L465.58 214.67 L466.70 214.65 L466.85 214.60 L467.01 214.49 L467.17 214.30 L467.33 213.98 L467.49 213.51 L467.65 212.91 L467.81 212.28 L467.97 211.74 L468.13 211.47 L468.29 211.55 L468.45 211.93 L468.60 212.44 L468.76 212.89 L468.92 213.17 L469.08 213.25 L469.24 213.17 L469.40 213.06 L469.56 213.03 L469.72 213.15 L469.88 213.41 L470.04 213.73 L470.20 214.05 L470.35 214.30 L470.51 214.48 L470.67 214.60 L470.83 214.66 L471.15 214.71 L495.65 214.70" fill="none" stroke="#00ff00" stroke-width="1.45" stroke-linejoin="round"/>
<path d="M50.20 170.40 L50.68 170.34 L51.15 170.28 L51.63 170.22 L52.11 170.16 L52.59 170.10 L53.06 170.04 L78.52 170.11 L79.00 170.16 L79.47 170.21 L79.95 170.27 L80.43 170.32 L80.90 170.38 L81.38 170.43 L81.86 170.48 L111.29 170.41 L111.45 170.32 L111.61 170.15 L111.77 169.86 L111.93 169.49 L112.09 169.15 L112.24 168.99 L112.40 169.07 L112.56 169.34 L112.72 169.70 L112.88 170.01 L113.04 170.23 L113.20 170.36 L113.36 170.42 L114.63 170.47 L117.97 170.42 L118.13 170.36 L118.29 170.24 L118.45 170.07 L118.61 169.87 L118.77 169.72 L118.93 169.68 L119.09 169.77 L119.24 169.93 L119.40 170.12 L119.56 170.27 L119.72 170.37 L119.88 170.42 L126.09 170.39 L126.24 170.30 L126.40 170.10 L126.56 169.74 L126.72 169.20 L126.88 168.58 L127.04 168.11 L127.20 167.98 L127.36 168.23 L127.52 168.73 L127.68 169.31 L127.84 169.79 L127.99 170.11 L128.15 170.30 L128.31 170.38 L128.63 170.44 L134.84 170.38 L134.99 170.35 L135.15 170.27 L135.31 170.08 L135.47 169.63 L135.63 168.78 L135.79 167.46 L135.95 165.87 L136.11 164.51 L136.27 163.97 L136.43 164.41 L136.59 165.56 L136.74 167.02 L136.90 168.34 L137.06 169.31 L137.22 169.88 L137.38 170.18 L137.54 170.31 L137.70 170.36 L138.34 170.42 L146.93 170.37 L147.56 170.29 L147.88 170.21 L148.04 170.13 L148.20 169.96 L148.36 169.53 L148.52 168.52 L148.68 166.43 L148.84 162.90 L148.99 158.21 L149.15 153.56 L149.31 150.76 L149.47 150.89 L149.63 153.48 L149.79 157.49 L149.95 161.77 L150.11 165.31 L150.27 167.72 L150.43 169.09 L150.59 169.76 L150.74 170.05 L150.90 170.18 L151.06 170.24 L151.38 170.30 L151.86 170.36 L153.77 170.34 L153.93 170.25 L154.09 170.09 L154.24 169.87 L154.40 169.63 L154.56 169.47 L154.72 169.45 L154.88 169.55 L155.04 169.74 L155.20 169.95 L155.36 170.14 L155.52 170.28 L155.68 170.36 L155.99 170.42 L188.93 170.36 L189.08 170.29 L189.24 170.16 L189.40 169.96 L189.56 169.73 L189.72 169.53 L189.88 169.42 L190.04 169.45 L190.20 169.56 L190.36 169.72 L190.52 169.91 L190.68 170.08 L190.83 170.21 L190.99 170.30 L191.31 170.38 L193.54 170.32 L194.02 170.25 L194.33 170.18 L194.49 170.11 L194.65 169.99 L194.81 169.70 L194.97 169.00 L195.13 167.50 L195.29 164.77 L195.45 160.68 L195.61 155.82 L195.77 151.58 L195.93 149.52 L196.08 150.08 L196.24 152.40 L196.40 155.70 L196.56 159.46 L196.72 163.07 L196.88 165.99 L197.04 167.99 L197.20 169.16 L197.36 169.75 L197.52 170.02 L197.68 170.14 L197.83 170.20 L198.15 170.27 L198.63 170.32 L199.58 170.37 L208.02 170.29 L208.18 170.24 L208.33 170.10 L208.49 169.77 L208.65 169.12 L208.81 167.99 L208.97 166.40 L209.13 164.64 L209.29 163.24 L209.45 162.72 L209.61 163.08 L209.77 163.97 L209.93 165.12 L210.08 166.41 L210.24 167.68 L210.40 168.73 L210.56 169.47 L210.72 169.92 L210.88 170.15 L211.04 170.26 L211.36 170.33 L212.31 170.39 L225.20 170.33 L225.83 170.26 L225.99 170.21 L226.15 170.12 L226.31 169.92 L226.47 169.44 L226.63 168.47 L226.79 166.78 L226.95 164.37 L227.11 161.61 L227.27 159.29 L227.43 158.25 L227.58 158.61 L227.74 159.82 L227.90 161.38 L228.06 163.18 L228.22 165.09 L228.38 166.87 L228.54 168.29 L228.70 169.25 L228.86 169.79 L229.02 170.07 L229.18 170.19 L229.33 170.25 L229.65 170.31 L230.45 170.36 L235.38 170.34 L235.54 170.27 L235.70 170.16 L235.86 170.00 L236.02 169.82 L236.18 169.67 L236.33 169.60 L236.49 169.63 L236.65 169.71 L236.81 169.80 L236.97 169.91 L237.13 170.04 L237.29 170.15 L237.45 170.25 L237.61 170.32 L237.93 170.38 L243.02 170.33 L243.18 170.26 L243.33 170.14 L243.49 169.98 L243.65 169.81 L243.81 169.66 L243.97 169.59 L244.13 169.62 L244.29 169.70 L244.45 169.79 L244.61 169.89 L244.77 170.01 L244.93 170.12 L245.08 170.22 L245.24 170.29 L245.56 170.36 L250.65 170.30 L251.45 170.25 L251.93 170.18 L252.24 170.12 L252.40 170.08 L252.56 170.03 L252.72 169.96 L252.88 169.86 L253.04 169.70 L253.20 169.37 L253.36 168.61 L253.52 166.95 L253.68 163.66 L253.83 158.16 L253.99 150.54 L254.15 142.10 L254.31 135.28 L254.47 132.44 L254.63 133.80 L254.79 137.46 L254.95 141.69 L255.11 146.21 L255.27 151.29 L255.43 156.64 L255.58 161.45 L255.74 165.13 L255.90 167.51 L256.06 168.83 L256.22 169.48 L256.38 169.77 L256.54 169.92 L256.70 170.01 L256.86 170.06 L257.18 170.15 L257.49 170.20 L257.97 170.25 L258.77 170.31 L260.68 170.36 L262.27 170.42 L262.58 170.51 L262.90 170.59 L263.22 170.68 L263.54 170.77 L263.86 170.86 L264.18 170.95 L264.49 171.04 L304.74 170.99 L306.02 170.93 L306.17 170.87 L306.33 170.78 L306.49 170.65 L306.65 170.50 L306.81 170.37 L306.97 170.29 L307.13 170.30 L307.29 170.37 L307.45 170.44 L307.61 170.50 L307.77 170.55 L307.92 170.61 L308.08 170.69 L308.24 170.78 L308.40 170.85 L308.56 170.91 L308.88 170.96 L318.74 170.91 L319.38 170.81 L319.54 170.71 L319.70 170.50 L319.86 170.10 L320.02 169.44 L320.17 168.52 L320.33 167.47 L320.49 166.56 L320.65 166.08 L320.81 166.17 L320.97 166.64 L321.13 167.17 L321.29 167.58 L321.45 167.89 L321.61 168.25 L321.77 168.74 L321.92 169.32 L322.08 169.86 L322.24 170.29 L322.40 170.57 L322.56 170.74 L322.72 170.82 L323.04 170.88 L325.90 170.87 L326.06 170.82 L326.22 170.72 L326.38 170.55 L326.54 170.33 L326.70 170.07 L326.86 169.85 L327.02 169.74 L327.17 169.76 L327.33 169.88 L327.49 170.01 L327.65 170.11 L327.81 170.18 L327.97 170.26 L328.13 170.37 L328.29 170.51 L328.45 170.65 L328.61 170.75 L328.77 170.83 L329.08 170.90 L356.45 170.85 L358.52 170.79 L358.83 170.74 L358.99 170.67 L359.15 170.53 L359.31 170.25 L359.47 169.77 L359.63 169.02 L359.79 168.06 L359.95 167.05 L360.11 166.25 L360.27 165.95 L360.42 166.20 L360.58 166.76 L360.74 167.32 L360.90 167.70 L361.06 167.89 L361.22 168.06 L361.38 168.37 L361.54 168.85 L361.70 169.39 L361.86 169.88 L362.01 170.26 L362.17 170.51 L362.33 170.66 L362.49 170.73 L362.81 170.78 L378.88 170.72 L379.04 170.65 L379.20 170.55 L379.36 170.42 L379.51 170.28 L379.67 170.16 L379.83 170.10 L379.99 170.12 L380.15 170.20 L380.31 170.29 L380.47 170.35 L380.95 170.42 L381.11 170.47 L381.26 170.54 L381.42 170.61 L381.58 170.67 L381.90 170.75 L388.90 170.70 L389.06 170.67 L389.22 170.62 L389.38 170.51 L389.54 170.30 L389.70 169.92 L389.86 169.33 L390.01 168.53 L390.17 167.63 L390.33 166.84 L390.49 166.40 L390.65 166.47 L390.81 166.93 L390.97 167.51 L391.13 167.96 L391.29 168.20 L391.45 168.27 L391.61 168.33 L391.76 168.55 L391.92 168.93 L392.08 169.40 L392.24 169.84 L392.40 170.19 L392.56 170.43 L392.72 170.57 L392.88 170.64 L393.20 170.70 L398.92 170.62 L399.08 170.57 L399.24 170.45 L399.40 170.23 L399.56 169.80 L399.72 169.10 L399.88 168.11 L400.04 166.92 L400.20 165.75 L400.36 164.94 L400.51 164.77 L400.67 165.23 L400.83 166.02 L400.99 166.76 L401.15 167.22 L401.31 167.38 L401.47 167.40 L401.63 167.53 L401.79 167.90 L401.95 168.47 L402.11 169.10 L402.26 169.66 L402.42 170.09 L402.58 170.36 L402.74 170.52 L402.90 170.60 L403.22 170.66 L405.13 170.71 L410.54 170.65 L410.70 170.59 L410.86 170.49 L411.01 170.34 L411.17 170.15 L411.33 169.95 L411.49 169.79 L411.65 169.72 L411.81 169.76 L411.97 169.88 L412.13 170.01 L412.29 170.11 L412.61 170.17 L412.92 170.20 L413.08 170.27 L413.24 170.37 L413.40 170.47 L413.56 170.56 L413.72 170.62 L414.04 170.68 L423.90 170.63 L424.06 170.58 L424.22 170.50 L424.38 170.37 L424.54 170.19 L424.70 169.99 L424.86 169.81 L425.01 169.70 L425.17 169.70 L425.33 169.79 L425.49 169.93 L425.65 170.06 L425.81 170.13 L426.45 170.18 L426.61 170.26 L426.76 170.36 L426.92 170.46 L427.08 170.54 L427.24 170.59 L427.56 170.65 L433.92 170.59 L434.08 170.53 L434.24 170.44 L434.40 170.30 L434.56 170.12 L434.72 169.92 L434.88 169.75 L435.04 169.66 L435.20 169.68 L435.36 169.79 L435.51 169.94 L435.67 170.06 L435.83 170.13 L436.47 170.15 L436.63 170.23 L436.79 170.33 L436.95 170.42 L437.11 170.51 L437.26 170.56 L437.58 170.62 L439.97 170.57 L440.13 170.52 L440.29 170.42 L440.45 170.28 L440.61 170.10 L440.76 169.90 L440.92 169.73 L441.08 169.64 L441.24 169.67 L441.40 169.78 L441.56 169.93 L441.72 170.05 L441.88 170.12 L442.51 170.13 L442.67 170.20 L442.83 170.30 L442.99 170.40 L443.15 170.48 L443.31 170.54 L443.63 170.60 L460.17 170.55 L460.97 170.49 L461.13 170.45 L461.29 170.37 L461.45 170.21 L461.60 169.91 L461.76 169.44 L461.92 168.76 L462.08 167.92 L462.24 167.05 L462.40 166.37 L462.56 166.09 L462.72 166.29 L462.88 166.86 L463.04 167.55 L463.20 168.12 L463.35 168.43 L463.51 168.47 L463.67 168.35 L463.83 168.22 L463.99 168.25 L464.15 168.50 L464.31 168.89 L464.47 169.34 L464.63 169.74 L464.79 170.06 L464.95 170.27 L465.10 170.39 L465.26 170.46 L465.58 170.51 L467.17 170.45 L467.33 170.37 L467.49 170.26 L467.65 170.11 L467.81 169.96 L467.97 169.83 L468.13 169.76 L468.29 169.78 L468.45 169.88 L468.60 170.00 L468.76 170.11 L468.92 170.18 L469.72 170.17 L469.88 170.23 L470.04 170.31 L470.20 170.39 L470.35 170.45 L470.67 170.52 L495.65 170.50" fill="none" stroke="#0000ff" stroke-width="1.45" stroke-linejoin="round"/>
<path d="M50.20 130.20 L50.52 130.14 L50.84 130.08 L51.15 130.02 L51.47 129.96 L51.79 129.90 L52.11 129.84 L52.43 129.78 L52.75 129.72 L53.06 129.66 L53.38 129.60 L78.68 129.65 L79.95 129.71 L81.06 129.76 L111.29 129.71 L111.45 129.64 L111.61 129.50 L111.77 129.27 L111.93 128.98 L112.09 128.70 L112.24 128.57 L112.40 128.63 L112.56 128.85 L112.72 129.14 L112.88 129.39 L113.04 129.57 L113.20 129.67 L113.52 129.74 L126.09 129.66 L126.24 129.58 L126.40 129.38 L126.56 129.02 L126.72 128.48 L126.88 127.86 L127.04 127.38 L127.20 127.25 L127.36 127.51 L127.52 128.01 L127.68 128.58 L127.84 129.06 L127.99 129.39 L128.15 129.57 L128.31 129.66 L128.63 129.71 L134.84 129.65 L134.99 129.62 L135.15 129.54 L135.31 129.35 L135.47 128.90 L135.63 128.05 L135.79 126.73 L135.95 125.14 L136.11 123.78 L136.27 123.24 L136.43 123.68 L136.59 124.83 L136.74 126.29 L136.90 127.61 L137.06 128.58 L137.22 129.15 L137.38 129.45 L137.54 129.58 L137.70 129.63 L138.34 129.69 L146.77 129.64 L147.40 129.57 L147.72 129.51 L147.88 129.46 L148.04 129.37 L148.20 129.19 L148.36 128.73 L148.52 127.65 L148.68 125.41 L148.84 121.64 L148.99 116.62 L149.15 111.64 L149.31 108.64 L149.47 108.79 L149.63 111.55 L149.79 115.85 L149.95 120.43 L150.11 124.22 L150.27 126.79 L150.43 128.26 L150.59 128.98 L150.74 129.29 L150.90 129.42 L151.06 129.48 L151.38 129.56 L151.86 129.61 L153.13 129.66 L153.77 129.60 L153.93 129.51 L154.09 129.35 L154.24 129.12 L154.40 128.89 L154.56 128.73 L154.72 128.70 L154.88 128.81 L155.04 129.00 L155.20 129.21 L155.36 129.40 L155.52 129.53 L155.68 129.62 L155.99 129.68 L188.93 129.60 L189.08 129.53 L189.24 129.40 L189.40 129.20 L189.56 128.97 L189.72 128.77 L189.88 128.66 L190.04 128.69 L190.20 128.80 L190.36 128.96 L190.52 129.15 L190.68 129.32 L190.83 129.45 L190.99 129.54 L191.31 129.61 L193.38 129.56 L193.86 129.51 L194.18 129.45 L194.33 129.40 L194.49 129.33 L194.65 129.20 L194.81 128.89 L194.97 128.15 L195.13 126.56 L195.29 123.66 L195.45 119.31 L195.61 114.15 L195.77 109.65 L195.93 107.46 L196.08 108.05 L196.24 110.52 L196.40 114.02 L196.56 118.02 L196.72 121.85 L196.88 124.95 L197.04 127.08 L197.20 128.32 L197.36 128.94 L197.52 129.23 L197.68 129.35 L197.83 129.42 L198.15 129.49 L198.63 129.55 L199.58 129.60 L207.86 129.55 L208.02 129.52 L208.18 129.46 L208.33 129.32 L208.49 129.00 L208.65 128.33 L208.81 127.19 L208.97 125.57 L209.13 123.79 L209.29 122.38 L209.45 121.85 L209.61 122.22 L209.77 123.11 L209.93 124.28 L210.08 125.59 L210.24 126.87 L210.40 127.94 L210.56 128.69 L210.72 129.14 L210.88 129.38 L211.04 129.49 L211.36 129.56 L212.31 129.61 L225.04 129.56 L225.68 129.50 L225.99 129.42 L226.15 129.33 L226.31 129.11 L226.47 128.62 L226.63 127.61 L226.79 125.86 L226.95 123.34 L227.11 120.46 L227.27 118.06 L227.43 116.97 L227.58 117.34 L227.74 118.60 L227.90 120.23 L228.06 122.10 L228.22 124.09 L228.38 125.95 L228.54 127.42 L228.70 128.42 L228.86 128.99 L229.02 129.27 L229.18 129.40 L229.33 129.46 L229.65 129.52 L230.45 129.57 L250.33 129.52 L251.29 129.46 L251.77 129.40 L252.08 129.34 L252.40 129.26 L252.56 129.20 L252.72 129.13 L252.88 129.03 L253.04 128.86 L253.20 128.50 L253.36 127.70 L253.52 125.91 L253.68 122.40 L253.83 116.52 L253.99 108.38 L254.15 99.37 L254.31 92.08 L254.47 89.04 L254.63 90.50 L254.79 94.41 L254.95 98.94 L255.11 103.75 L255.27 109.19 L255.43 114.90 L255.58 120.04 L255.74 123.97 L255.90 126.51 L256.06 127.92 L256.22 128.62 L256.38 128.93 L256.54 129.09 L256.70 129.18 L256.86 129.24 L257.18 129.33 L257.49 129.39 L257.97 129.45 L258.77 129.50 L260.52 129.55 L262.11 129.57 L262.27 129.65 L262.43 129.73 L262.58 129.82 L262.74 129.90 L262.90 129.98 L263.06 130.06 L263.22 130.15 L263.38 130.23 L263.54 130.31 L263.70 130.39 L263.86 130.47 L264.02 130.56 L264.18 130.64 L264.33 130.72 L264.49 130.80 L264.65 130.88 L305.86 130.83 L306.02 130.80 L306.17 130.75 L306.33 130.65 L306.49 130.52 L306.65 130.37 L306.81 130.24 L306.97 130.17 L307.13 130.18 L307.29 130.24 L307.45 130.31 L307.61 130.37 L307.77 130.43 L307.92 130.49 L308.08 130.57 L308.24 130.65 L308.40 130.73 L308.56 130.78 L308.88 130.83 L319.06 130.77 L319.38 130.70 L319.54 130.59 L319.70 130.37 L319.86 129.94 L320.02 129.24 L320.17 128.26 L320.33 127.15 L320.49 126.18 L320.65 125.68 L320.81 125.78 L320.97 126.27 L321.13 126.83 L321.29 127.27 L321.45 127.60 L321.61 127.98 L321.77 128.51 L321.92 129.12 L322.08 129.69 L322.24 130.15 L322.40 130.45 L322.56 130.62 L322.72 130.71 L323.04 130.78 L325.90 130.76 L326.06 130.69 L326.22 130.57 L326.38 130.37 L326.54 130.08 L326.70 129.76 L326.86 129.49 L327.02 129.35 L327.17 129.38 L327.33 129.52 L327.49 129.69 L327.65 129.81 L327.81 129.90 L327.97 130.00 L328.13 130.14 L328.29 130.32 L328.45 130.48 L328.61 130.62 L328.77 130.71 L328.92 130.77 L329.56 130.82 L347.22 130.73 L347.38 130.66 L347.54 130.57 L347.70 130.46 L347.86 130.37 L348.17 130.34 L348.33 130.39 L348.49 130.45 L348.81 130.52 L349.13 130.57 L349.29 130.62 L349.45 130.68 L349.61 130.73 L349.92 130.79 L358.67 130.73 L358.83 130.69 L358.99 130.62 L359.15 130.47 L359.31 130.18 L359.47 129.66 L359.63 128.87 L359.79 127.85 L359.95 126.78 L360.11 125.94 L360.27 125.62 L360.42 125.88 L360.58 126.47 L360.74 127.07 L360.90 127.47 L361.06 127.68 L361.22 127.86 L361.38 128.19 L361.54 128.69 L361.70 129.26 L361.86 129.79 L362.01 130.20 L362.17 130.46 L362.33 130.61 L362.49 130.69 L362.81 130.75 L365.04 130.80 L378.88 130.72 L379.04 130.65 L379.20 130.55 L379.36 130.42 L379.51 130.27 L379.67 130.15 L379.83 130.10 L379.99 130.12 L380.15 130.20 L380.31 130.29 L380.47 130.35 L380.95 130.42 L381.11 130.47 L381.26 130.54 L381.42 130.61 L381.58 130.68 L381.90 130.75 L388.90 130.70 L389.06 130.67 L389.22 130.61 L389.38 130.48 L389.54 130.23 L389.70 129.79 L389.86 129.08 L390.01 128.14 L390.17 127.07 L390.33 126.14 L390.49 125.63 L390.65 125.71 L390.81 126.25 L390.97 126.93 L391.13 127.47 L391.29 127.75 L391.45 127.83 L391.61 127.91 L391.76 128.16 L391.92 128.62 L392.08 129.17 L392.24 129.69 L392.40 130.11 L392.56 130.39 L392.72 130.56 L392.88 130.64 L393.20 130.71 L398.92 130.65 L399.08 130.59 L399.24 130.47 L399.40 130.22 L399.56 129.77 L399.72 129.03 L399.88 127.97 L400.04 126.69 L400.20 125.45 L400.36 124.59 L400.51 124.40 L400.67 124.90 L400.83 125.74 L400.99 126.53 L401.15 127.02 L401.31 127.19 L401.47 127.22 L401.63 127.35 L401.79 127.74 L401.95 128.35 L402.11 129.03 L402.26 129.63 L402.42 130.08 L402.58 130.37 L402.74 130.54 L402.90 130.63 L403.22 130.69 L404.65 130.75 L410.54 130.67 L410.70 130.59 L410.86 130.45 L411.01 130.24 L411.17 129.98 L411.33 129.70 L411.49 129.47 L411.65 129.37 L411.81 129.43 L411.97 129.59 L412.13 129.79 L412.29 129.93 L412.45 130.00 L412.92 130.05 L413.08 130.15 L413.24 130.29 L413.40 130.43 L413.56 130.55 L413.72 130.64 L413.88 130.69 L414.36 130.75 L424.06 130.65 L424.22 130.57 L424.38 130.44 L424.54 130.27 L424.70 130.07 L424.86 129.89 L425.01 129.77 L425.17 129.77 L425.33 129.87 L425.49 130.01 L425.65 130.14 L425.81 130.21 L426.45 130.26 L426.61 130.34 L426.76 130.44 L426.92 130.54 L427.08 130.62 L427.24 130.68 L427.56 130.73 L433.92 130.68 L434.08 130.63 L434.24 130.53 L434.40 130.39 L434.56 130.21 L434.72 130.01 L434.88 129.84 L435.04 129.75 L435.20 129.78 L435.36 129.89 L435.51 130.03 L435.67 130.16 L435.83 130.22 L436.47 130.25 L436.63 130.32 L436.79 130.42 L436.95 130.52 L437.11 130.60 L437.26 130.66 L437.58 130.71 L439.97 130.67 L440.13 130.62 L440.29 130.52 L440.45 130.38 L440.61 130.20 L440.76 130.00 L440.92 129.83 L441.08 129.74 L441.24 129.77 L441.40 129.88 L441.56 130.02 L441.72 130.15 L441.88 130.22 L442.51 130.22 L442.67 130.28 L442.83 130.36 L442.99 130.43 L443.31 130.41 L443.47 130.29 L443.63 130.13 L443.79 129.94 L443.95 129.79 L444.11 129.73 L444.26 129.78 L444.42 129.90 L444.58 130.05 L444.74 130.17 L444.90 130.23 L445.54 130.24 L445.70 130.31 L445.86 130.41 L446.01 130.51 L446.17 130.59 L446.33 130.65 L446.65 130.71 L460.81 130.65 L461.13 130.58 L461.29 130.48 L461.45 130.30 L461.60 129.98 L461.76 129.45 L461.92 128.69 L462.08 127.76 L462.24 126.80 L462.40 126.04 L462.56 125.73 L462.72 125.96 L462.88 126.59 L463.04 127.36 L463.20 127.99 L463.35 128.33 L463.51 128.38 L463.67 128.24 L463.83 128.11 L463.99 128.14 L464.15 128.41 L464.31 128.85 L464.47 129.35 L464.63 129.80 L464.79 130.14 L464.95 130.38 L465.10 130.52 L465.26 130.59 L465.58 130.65 L467.01 130.62 L467.17 130.57 L467.33 130.47 L467.49 130.33 L467.65 130.15 L467.81 129.96 L467.97 129.80 L468.13 129.71 L468.29 129.74 L468.45 129.86 L468.60 130.01 L468.76 130.15 L468.92 130.23 L469.72 130.23 L469.88 130.31 L470.04 130.40 L470.20 130.50 L470.35 130.58 L470.51 130.63 L470.83 130.69 L495.65 130.70" fill="none" stroke="#ff00ff" stroke-width="1.45" stroke-linejoin="round"/>
<path d="M50.20 83.00 L50.52 82.94 L50.84 82.88 L51.15 82.82 L51.47 82.76 L51.79 82.70 L52.11 82.64 L52.43 82.58 L52.75 82.52 L53.06 82.46 L53.38 82.40 L78.04 82.46 L78.52 82.53 L79.00 82.59 L79.47 82.66 L79.95 82.72 L80.43 82.79 L80.90 82.85 L81.38 82.91 L81.86 82.98 L110.49 82.95 L110.65 82.86 L110.81 82.70 L110.97 82.47 L111.13 82.23 L111.29 82.06 L111.45 82.05 L111.61 82.19 L111.77 82.42 L111.93 82.64 L112.09 82.82 L112.24 82.93 L112.40 82.98 L114.15 83.03 L125.93 82.96 L126.09 82.90 L126.24 82.76 L126.40 82.43 L126.56 81.82 L126.72 80.91 L126.88 79.88 L127.04 79.07 L127.20 78.86 L127.36 79.28 L127.52 80.13 L127.68 81.09 L127.84 81.90 L127.99 82.45 L128.15 82.75 L128.31 82.90 L128.47 82.96 L129.11 83.02 L134.99 82.94 L135.15 82.87 L135.31 82.69 L135.47 82.26 L135.63 81.45 L135.79 80.19 L135.95 78.67 L136.11 77.37 L136.27 76.86 L136.43 77.28 L136.59 78.38 L136.74 79.77 L136.90 81.04 L137.06 81.95 L137.22 82.51 L137.38 82.79 L137.54 82.91 L137.70 82.96 L138.34 83.02 L148.04 82.96 L148.20 82.90 L148.36 82.76 L148.52 82.41 L148.68 81.70 L148.84 80.50 L148.99 78.91 L149.15 77.32 L149.31 76.37 L149.47 76.42 L149.63 77.30 L149.79 78.66 L149.95 80.12 L150.11 81.32 L150.27 82.14 L150.43 82.61 L150.59 82.83 L150.74 82.93 L151.06 83.00 L154.09 82.97 L154.24 82.88 L154.40 82.68 L154.56 82.25 L154.72 81.50 L154.88 80.46 L155.04 79.37 L155.20 78.62 L155.36 78.52 L155.52 79.00 L155.68 79.84 L155.84 80.82 L155.99 81.68 L156.15 82.31 L156.31 82.69 L156.47 82.88 L156.63 82.97 L156.95 83.03 L159.34 83.08 L176.20 83.13 L188.93 83.07 L189.08 82.96 L189.24 82.77 L189.40 82.48 L189.56 82.13 L189.72 81.82 L189.88 81.67 L190.04 81.71 L190.20 81.88 L190.36 82.12 L190.52 82.40 L190.68 82.66 L190.83 82.86 L190.99 83.00 L191.15 83.07 L191.47 83.12 L193.54 83.06 L194.02 82.99 L194.33 82.90 L194.49 82.83 L194.65 82.68 L194.81 82.33 L194.97 81.52 L195.13 79.76 L195.29 76.54 L195.45 71.73 L195.61 66.02 L195.77 61.03 L195.93 58.61 L196.08 59.26 L196.24 62.00 L196.40 65.88 L196.56 70.30 L196.72 74.55 L196.88 77.98 L197.04 80.34 L197.20 81.72 L197.36 82.41 L197.52 82.73 L197.68 82.87 L197.83 82.94 L198.15 83.02 L198.63 83.09 L199.43 83.15 L201.33 83.20 L207.70 83.14 L208.02 83.08 L208.18 83.00 L208.33 82.81 L208.49 82.37 L208.65 81.48 L208.81 79.94 L208.97 77.77 L209.13 75.37 L209.29 73.47 L209.45 72.77 L209.61 73.26 L209.77 74.46 L209.93 76.03 L210.08 77.80 L210.24 79.52 L210.40 80.96 L210.56 81.98 L210.72 82.59 L210.88 82.90 L211.04 83.05 L211.20 83.12 L211.52 83.17 L212.31 83.23 L215.02 83.28 L225.04 83.22 L225.52 83.16 L225.83 83.09 L225.99 83.02 L226.15 82.88 L226.31 82.55 L226.47 81.81 L226.63 80.28 L226.79 77.63 L226.95 73.82 L227.11 69.48 L227.27 65.84 L227.43 64.19 L227.58 64.76 L227.74 66.67 L227.90 69.13 L228.06 71.95 L228.22 74.97 L228.38 77.78 L228.54 80.01 L228.70 81.51 L228.86 82.37 L229.02 82.81 L229.18 83.00 L229.33 83.10 L229.49 83.15 L229.81 83.21 L230.29 83.26 L231.24 83.31 L235.38 83.28 L235.54 83.20 L235.70 83.06 L235.86 82.86 L236.02 82.64 L236.18 82.46 L236.33 82.37 L236.49 82.41 L236.65 82.51 L236.81 82.63 L236.97 82.77 L237.13 82.92 L237.29 83.06 L237.45 83.19 L237.61 83.27 L237.77 83.32 L238.56 83.37 L250.81 83.32 L251.45 83.27 L251.93 83.20 L252.24 83.13 L252.40 83.08 L252.56 83.02 L252.72 82.94 L252.88 82.83 L253.04 82.64 L253.20 82.26 L253.36 81.39 L253.52 79.46 L253.68 75.65 L253.83 69.28 L253.99 60.46 L254.15 50.70 L254.31 42.80 L254.47 39.50 L254.63 41.09 L254.79 45.32 L254.95 50.23 L255.11 55.45 L255.27 61.34 L255.43 67.53 L255.58 73.10 L255.74 77.36 L255.90 80.12 L256.06 81.65 L256.22 82.40 L256.38 82.75 L256.54 82.92 L256.70 83.02 L256.86 83.09 L257.02 83.14 L257.33 83.22 L257.65 83.27 L258.13 83.33 L258.93 83.38 L260.36 83.43 L262.11 83.47 L262.27 83.52 L262.43 83.57 L262.58 83.62 L262.74 83.67 L262.90 83.72 L263.06 83.77 L263.22 83.82 L263.38 83.88 L263.54 83.93 L263.70 83.98 L263.86 84.03 L264.02 84.08 L264.18 84.13 L264.33 84.18 L264.49 84.23 L264.65 84.28 L270.70 84.33 L277.38 84.38 L304.58 84.33 L305.38 84.27 L305.54 84.21 L305.70 84.10 L305.86 83.95 L306.02 83.78 L306.17 83.63 L306.33 83.54 L306.49 83.56 L306.65 83.63 L306.81 83.71 L306.97 83.78 L307.13 83.84 L307.29 83.91 L307.45 84.00 L307.61 84.10 L307.77 84.18 L307.92 84.25 L308.24 84.31 L319.54 84.23 L319.70 84.17 L319.86 84.04 L320.02 83.84 L320.17 83.56 L320.33 83.24 L320.49 82.96 L320.65 82.81 L320.81 82.84 L320.97 82.98 L321.13 83.14 L321.29 83.27 L321.45 83.36 L321.61 83.47 L321.77 83.62 L321.92 83.80 L322.08 83.97 L322.24 84.10 L322.40 84.18 L322.72 84.26 L325.90 84.19 L326.06 84.10 L326.22 83.93 L326.38 83.66 L326.54 83.28 L326.70 82.86 L326.86 82.49 L327.02 82.30 L327.17 82.34 L327.33 82.53 L327.49 82.75 L327.65 82.92 L327.81 83.04 L327.97 83.17 L328.13 83.36 L328.29 83.59 L328.45 83.81 L328.61 83.99 L328.77 84.12 L328.92 84.19 L329.24 84.25 L355.65 84.20 L357.56 84.15 L358.36 84.08 L358.67 84.01 L358.83 83.94 L358.99 83.78 L359.15 83.46 L359.31 82.81 L359.47 81.66 L359.63 79.92 L359.79 77.66 L359.95 75.28 L360.11 73.42 L360.27 72.71 L360.42 73.29 L360.58 74.61 L360.74 75.93 L360.90 76.81 L361.06 77.27 L361.22 77.67 L361.38 78.40 L361.54 79.51 L361.70 80.78 L361.86 81.95 L362.01 82.84 L362.17 83.43 L362.33 83.76 L362.49 83.93 L362.65 84.02 L362.97 84.08 L363.76 84.14 L378.72 84.10 L378.88 84.05 L379.04 83.95 L379.20 83.81 L379.36 83.62 L379.51 83.42 L379.67 83.24 L379.83 83.16 L379.99 83.20 L380.15 83.31 L380.31 83.44 L380.47 83.53 L380.79 83.59 L380.95 83.62 L381.11 83.69 L381.26 83.79 L381.42 83.89 L381.58 83.99 L381.74 84.05 L382.06 84.12 L387.95 84.07 L388.58 84.01 L388.90 83.95 L389.06 83.89 L389.22 83.76 L389.38 83.50 L389.54 82.97 L389.70 82.02 L389.86 80.54 L390.01 78.54 L390.17 76.29 L390.33 74.31 L390.49 73.22 L390.65 73.39 L390.81 74.54 L390.97 75.99 L391.13 77.13 L391.29 77.71 L391.45 77.89 L391.61 78.06 L391.76 78.59 L391.92 79.55 L392.08 80.71 L392.24 81.82 L392.40 82.70 L392.56 83.30 L392.72 83.65 L392.88 83.84 L393.04 83.93 L393.36 84.01 L394.15 84.06 L399.08 83.99 L399.24 83.90 L399.40 83.74 L399.56 83.44 L399.72 82.94 L399.88 82.23 L400.04 81.37 L400.20 80.53 L400.36 79.95 L400.51 79.83 L400.67 80.16 L400.83 80.73 L400.99 81.26 L401.15 81.59 L401.31 81.70 L401.47 81.72 L401.63 81.81 L401.79 82.07 L401.95 82.48 L402.11 82.93 L402.26 83.34 L402.42 83.64 L402.58 83.84 L402.74 83.95 L402.90 84.01 L403.38 84.06 L410.54 84.02 L410.70 83.97 L410.86 83.87 L411.01 83.72 L411.17 83.53 L411.33 83.33 L411.49 83.17 L411.65 83.09 L411.81 83.13 L411.97 83.25 L412.13 83.39 L412.29 83.49 L412.61 83.54 L412.92 83.57 L413.08 83.64 L413.24 83.74 L413.40 83.85 L413.56 83.93 L413.72 84.00 L414.04 84.06 L424.06 83.96 L424.22 83.88 L424.38 83.75 L424.54 83.57 L424.70 83.37 L424.86 83.19 L425.01 83.08 L425.17 83.08 L425.33 83.17 L425.49 83.31 L425.65 83.44 L425.81 83.51 L426.45 83.56 L426.61 83.64 L426.76 83.74 L426.92 83.84 L427.08 83.92 L427.24 83.98 L427.56 84.03 L433.92 83.97 L434.08 83.92 L434.24 83.82 L434.40 83.68 L434.56 83.50 L434.72 83.30 L434.88 83.13 L435.04 83.04 L435.20 83.07 L435.36 83.18 L435.51 83.32 L435.67 83.44 L435.83 83.51 L436.47 83.53 L436.63 83.61 L436.79 83.71 L436.95 83.81 L437.11 83.89 L437.26 83.95 L437.58 84.00 L439.97 83.95 L440.13 83.90 L440.29 83.81 L440.45 83.66 L440.61 83.48 L440.76 83.29 L440.92 83.12 L441.08 83.03 L441.24 83.05 L441.40 83.16 L441.56 83.31 L441.72 83.44 L441.88 83.51 L442.51 83.52 L442.67 83.59 L442.83 83.68 L442.99 83.78 L443.15 83.87 L443.31 83.93 L443.63 83.99 L460.17 83.93 L460.97 83.86 L461.13 83.81 L461.29 83.71 L461.45 83.52 L461.60 83.17 L461.76 82.60 L461.92 81.78 L462.08 80.77 L462.24 79.73 L462.40 78.92 L462.56 78.58 L462.72 78.82 L462.88 79.51 L463.04 80.33 L463.20 81.01 L463.35 81.39 L463.51 81.44 L463.67 81.29 L463.83 81.14 L463.99 81.18 L464.15 81.47 L464.31 81.94 L464.47 82.48 L464.63 82.97 L464.79 83.34 L464.95 83.59 L465.10 83.75 L465.26 83.83 L465.58 83.89 L467.01 83.86 L467.17 83.81 L467.33 83.71 L467.49 83.57 L467.65 83.39 L467.81 83.20 L467.97 83.03 L468.13 82.95 L468.29 82.98 L468.45 83.09 L468.60 83.25 L468.76 83.39 L468.92 83.47 L469.72 83.47 L469.88 83.54 L470.04 83.64 L470.20 83.74 L470.35 83.81 L470.51 83.87 L470.83 83.92 L495.65 83.90" fill="none" stroke="#009a00" stroke-width="1.45" stroke-linejoin="round"/>
<rect x="50.5" y="6.55" width="445.2" height="359.15" fill="none" stroke="#000" stroke-width="1.5"/>
<path d="M50.25 365.7 V372.8 M56.61 365.7 V369.6 M62.98 365.7 V369.6 M69.34 365.7 V369.6 M75.70 365.7 V369.6 M82.07 365.7 V369.6 M88.43 365.7 V369.6 M94.80 365.7 V369.6 M101.16 365.7 V369.6 M107.52 365.7 V369.6 M113.89 365.7 V372.8 M120.25 365.7 V369.6 M126.61 365.7 V369.6 M132.98 365.7 V369.6 M139.34 365.7 V369.6 M145.70 365.7 V369.6 M152.07 365.7 V369.6 M158.43 365.7 V369.6 M164.79 365.7 V369.6 M171.16 365.7 V369.6 M177.52 365.7 V372.8 M183.88 365.7 V369.6 M190.25 365.7 V369.6 M196.61 365.7 V369.6 M202.98 365.7 V369.6 M209.34 365.7 V369.6 M215.70 365.7 V369.6 M222.07 365.7 V369.6 M228.43 365.7 V369.6 M234.79 365.7 V369.6 M241.16 365.7 V372.8 M247.52 365.7 V369.6 M253.88 365.7 V369.6 M260.25 365.7 V369.6 M266.61 365.7 V369.6 M272.98 365.7 V369.6 M279.34 365.7 V369.6 M285.70 365.7 V369.6 M292.07 365.7 V369.6 M298.43 365.7 V369.6 M304.79 365.7 V372.8 M311.16 365.7 V369.6 M317.52 365.7 V369.6 M323.88 365.7 V369.6 M330.25 365.7 V369.6 M336.61 365.7 V369.6 M342.97 365.7 V369.6 M349.34 365.7 V369.6 M355.70 365.7 V369.6 M362.06 365.7 V369.6 M368.43 365.7 V372.8 M374.79 365.7 V369.6 M381.16 365.7 V369.6 M387.52 365.7 V369.6 M393.88 365.7 V369.6 M400.25 365.7 V369.6 M406.61 365.7 V369.6 M412.97 365.7 V369.6 M419.34 365.7 V369.6 M425.70 365.7 V369.6 M432.06 365.7 V372.8 M438.43 365.7 V369.6 M444.79 365.7 V369.6 M451.15 365.7 V369.6 M457.52 365.7 V369.6 M463.88 365.7 V369.6 M470.25 365.7 V369.6 M476.61 365.7 V369.6 M482.97 365.7 V369.6 M489.34 365.7 V369.6 M495.70 365.7 V372.8" stroke="#000" stroke-width="1.2" fill="none"/>
<path d="M112.50 330.6 V326.90 M126.50 330.6 V325.40 M135.50 330.6 V318.40 M190.50 330.6 V327.40 M209.50 330.6 V314.40 M227.50 330.6 V305.90 M236.50 330.6 V328.90 M293.50 330.6 V329.60 M307.50 330.6 V329.60 M327.50 330.6 V327.40 M331.50 330.6 V329.90 M347.50 330.6 V329.60 M362.50 330.6 V329.60 M379.50 330.6 V326.90 M391.50 330.6 V326.90 M396.50 330.6 V326.90 M411.50 330.6 V326.40 M433.50 330.6 V329.40 M438.50 330.6 V329.40 M442.50 330.6 V329.40 M456.50 330.6 V329.60 M467.50 330.6 V329.40 M490.50 330.6 V329.60 M149.50 359.8 V348.50 M196.50 359.8 V338.50 M255.50 359.8 V335.50 M321.50 359.8 V357.00 M360.50 359.8 V354.50 M390.50 359.8 V354.50 M400.50 359.8 V354.50 M425.50 359.8 V357.00 M463.50 359.8 V355.50" stroke="#383838" stroke-width="1.05" fill="none"/>
<path d="M108.65 64.30 L113.00 73.80 L117.35 64.30" fill="none" stroke="#000" stroke-width="1.25" stroke-linejoin="miter"/><path d="M108.35 64.60 H117.65" stroke="#000" stroke-width="0.8"/>
<path d="M122.85 64.30 L127.20 73.80 L131.55 64.30" fill="none" stroke="#000" stroke-width="1.25" stroke-linejoin="miter"/><path d="M122.55 64.60 H131.85" stroke="#000" stroke-width="0.8"/>
<path d="M133.05 62.80 L137.40 72.30 L141.75 62.80" fill="none" stroke="#000" stroke-width="1.25" stroke-linejoin="miter"/><path d="M132.75 63.10 H142.05" stroke="#000" stroke-width="0.8"/>
<path d="M185.25 69.00 L189.60 78.50 L193.95 69.00" fill="none" stroke="#000" stroke-width="1.25" stroke-linejoin="miter"/><path d="M184.95 69.30 H194.25" stroke="#000" stroke-width="0.8"/>
<path d="M206.05 61.00 L210.40 70.50 L214.75 61.00" fill="none" stroke="#000" stroke-width="1.25" stroke-linejoin="miter"/><path d="M205.75 61.30 H215.05" stroke="#000" stroke-width="0.8"/>
<path d="M223.45 52.40 L227.80 61.90 L232.15 52.40" fill="none" stroke="#000" stroke-width="1.25" stroke-linejoin="miter"/><path d="M223.15 52.70 H232.45" stroke="#000" stroke-width="0.8"/>
<path d="M232.65 68.70 L237.00 78.20 L241.35 68.70" fill="none" stroke="#000" stroke-width="1.25" stroke-linejoin="miter"/><path d="M232.35 69.00 H241.65" stroke="#000" stroke-width="0.8"/>
<path d="M302.65 71.30 L307.00 80.80 L311.35 71.30" fill="none" stroke="#000" stroke-width="1.25" stroke-linejoin="miter"/><path d="M302.35 71.60 H311.65" stroke="#000" stroke-width="0.8"/>
<path d="M323.85 60.50 L328.20 70.00 L332.55 60.50" fill="none" stroke="#000" stroke-width="1.25" stroke-linejoin="miter"/><path d="M323.55 60.80 H332.85" stroke="#000" stroke-width="0.8"/>
<path d="M376.65 69.50 L381.00 79.00 L385.35 69.50" fill="none" stroke="#000" stroke-width="1.25" stroke-linejoin="miter"/><path d="M376.35 69.80 H385.65" stroke="#000" stroke-width="0.8"/>
<path d="M394.85 70.50 L399.20 80.00 L403.55 70.50" fill="none" stroke="#000" stroke-width="1.25" stroke-linejoin="miter"/><path d="M394.55 70.80 H403.85" stroke="#000" stroke-width="0.8"/>
<path d="M408.85 67.30 L413.20 76.80 L417.55 67.30" fill="none" stroke="#000" stroke-width="1.25" stroke-linejoin="miter"/><path d="M408.55 67.60 H417.85" stroke="#000" stroke-width="0.8"/>
<path d="M431.25 63.00 L435.60 72.50 L439.95 63.00" fill="none" stroke="#000" stroke-width="1.25" stroke-linejoin="miter"/><path d="M430.95 63.30 H440.25" stroke="#000" stroke-width="0.8"/>
<path d="M436.65 70.20 L441.00 79.70 L445.35 70.20" fill="none" stroke="#000" stroke-width="1.25" stroke-linejoin="miter"/><path d="M436.35 70.50 H445.65" stroke="#000" stroke-width="0.8"/>
<path d="M441.15 62.50 L445.50 72.00 L449.85 62.50" fill="none" stroke="#000" stroke-width="1.25" stroke-linejoin="miter"/><path d="M440.85 62.80 H450.15" stroke="#000" stroke-width="0.8"/>
<path d="M465.15 69.20 L469.50 78.70 L473.85 69.20" fill="none" stroke="#000" stroke-width="1.25" stroke-linejoin="miter"/><path d="M464.85 69.50 H474.15" stroke="#000" stroke-width="0.8"/>
<path d="M150.00 60.70 L154.20 65.80 L150.00 70.90 L145.80 65.80 Z" fill="#000"/>
<path d="M195.80 44.40 L200.00 49.50 L195.80 54.60 L191.60 49.50 Z" fill="#000"/>
<path d="M254.50 26.40 L258.70 31.50 L254.50 36.60 L250.30 31.50 Z" fill="#000"/>
<path d="M321.50 70.00 L325.70 75.10 L321.50 80.20 L317.30 75.10 Z" fill="#000"/>
<path d="M359.60 57.60 L363.80 62.70 L359.60 67.80 L355.40 62.70 Z" fill="#000"/>
<path d="M389.40 59.60 L393.60 64.70 L389.40 69.80 L385.20 64.70 Z" fill="#000"/>
<path d="M401.80 58.50 L406.00 63.60 L401.80 68.70 L397.60 63.60 Z" fill="#000"/>
<path d="M425.80 66.50 L430.00 71.60 L425.80 76.70 L421.60 71.60 Z" fill="#000"/>
<path d="M462.90 62.20 L467.10 67.30 L462.90 72.40 L458.70 67.30 Z" fill="#000"/>
<circle cx="157.60" cy="69.50" r="3.20" fill="#000"/>
<circle cx="120.00" cy="76.40" r="2.40" fill="none" stroke="#000" stroke-width="0.9"/>
<circle cx="157.30" cy="244.20" r="2.40" fill="none" stroke="#000" stroke-width="0.9"/>
<path d="M56.40 14.40 L60.50 22.80 L64.60 14.40" fill="none" stroke="#000" stroke-width="1.25" stroke-linejoin="miter"/><path d="M56.10 14.70 H64.90" stroke="#000" stroke-width="0.8"/>
<path d="M59.90 30.50 L63.80 35.50 L59.90 40.50 L56.00 35.50 Z" fill="#000"/>
<circle cx="59.70" cy="53.10" r="3.40" fill="#000"/>
<circle cx="59.30" cy="70.00" r="2.40" fill="none" stroke="#000" stroke-width="0.9"/>
<text x="67.60" y="21.80" font-size="15.00" text-anchor="start" font-family="'Liberation Sans', Arial, sans-serif" >B<tspan dy="5" dx="-0.8">4</tspan><tspan dy="-5" dx="-0.2">C</tspan></text>
<text x="67.60" y="40.60" font-size="15.00" text-anchor="start" font-family="'Liberation Sans', Arial, sans-serif" >HfB<tspan dy="5">2</tspan></text>
<text x="67.60" y="57.40" font-size="15.00" text-anchor="start" font-family="'Liberation Sans', Arial, sans-serif" >C</text>
<text x="67.20" y="73.80" font-size="15.00" text-anchor="start" font-family="'Liberation Sans', Arial, sans-serif" >SiO<tspan dy="4.4" font-size="11.5">2</tspan></text>
<text x="54.20" y="329.80" font-size="16.30" text-anchor="start" font-family="'Liberation Sans', Arial, sans-serif" >B<tspan dy="4" font-size="11.8">4</tspan><tspan dy="-4">C</tspan></text>
<text x="54.40" y="356.90" font-size="16.30" text-anchor="start" font-family="'Liberation Sans', Arial, sans-serif" >HfB<tspan dy="4.9" font-size="11.8">2</tspan></text>
<text x="50.25" y="390.80" font-size="16.00" text-anchor="middle" font-family="'Liberation Sans', Arial, sans-serif" >10</text>
<text x="113.89" y="390.80" font-size="16.00" text-anchor="middle" font-family="'Liberation Sans', Arial, sans-serif" >20</text>
<text x="177.52" y="390.80" font-size="16.00" text-anchor="middle" font-family="'Liberation Sans', Arial, sans-serif" >30</text>
<text x="241.16" y="390.80" font-size="16.00" text-anchor="middle" font-family="'Liberation Sans', Arial, sans-serif" >40</text>
<text x="304.79" y="390.80" font-size="16.00" text-anchor="middle" font-family="'Liberation Sans', Arial, sans-serif" >50</text>
<text x="368.43" y="390.80" font-size="16.00" text-anchor="middle" font-family="'Liberation Sans', Arial, sans-serif" >60</text>
<text x="432.06" y="390.80" font-size="16.00" text-anchor="middle" font-family="'Liberation Sans', Arial, sans-serif" >70</text>
<text x="495.70" y="390.80" font-size="16.00" text-anchor="middle" font-family="'Liberation Sans', Arial, sans-serif" >80</text>
<text x="236.00" y="422.30" font-size="18.70" text-anchor="start" font-family="'Liberation Sans', Arial, sans-serif" >2&#952; (deg.)</text>
<text transform="translate(21.8 177) rotate(-90)" x="0" y="0" font-size="18.8" text-anchor="middle" font-family="'Liberation Sans', Arial, sans-serif">Intensity (arb. units)</text>
<text x="506.20" y="90.50" font-size="18.30" text-anchor="start" font-family="'Liberation Sans', Arial, sans-serif" >40%</text>
<text x="506.20" y="138.30" font-size="18.30" text-anchor="start" font-family="'Liberation Sans', Arial, sans-serif" >30%</text>
<text x="506.20" y="179.20" font-size="18.30" text-anchor="start" font-family="'Liberation Sans', Arial, sans-serif" >20%</text>
<text x="506.20" y="220.10" font-size="18.30" text-anchor="start" font-family="'Liberation Sans', Arial, sans-serif" >10%</text>
<text x="506.20" y="263.30" font-size="18.30" text-anchor="start" font-family="'Liberation Sans', Arial, sans-serif" >6%</text>
<text x="506.20" y="305.70" font-size="18.30" text-anchor="start" font-family="'Liberation Sans', Arial, sans-serif" >2%</text>
</svg>
</body></html>
